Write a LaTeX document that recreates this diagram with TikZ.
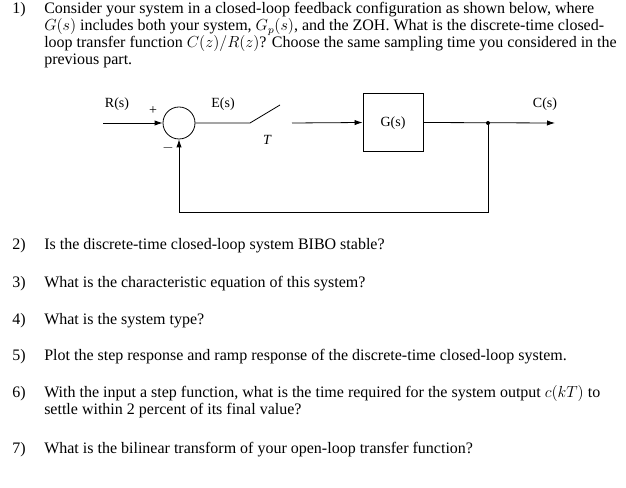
\documentclass[tikz,border=0pt]{standalone}
\usepackage{fontspec}
\setmainfont{Liberation Serif}
\usetikzlibrary{arrows.meta}
\begin{document}
\begin{tikzpicture}[x=0.75pt,y=-0.75pt,
  txt/.style={anchor=base west,inner sep=0pt,font=\fontsize{12}{14}\selectfont},
  lbl/.style={inner sep=0pt,font=\fontsize{10.5}{12}\selectfont},
  wire/.style={line width=0.6pt},
  arr/.style={wire,-{Latex[length=6pt,width=4pt]}}]
\useasboundingbox (0,0) rectangle (626,488);
% question text
\node[txt] (n1) at (12,14) {1)};
\node[txt] (l1a) at (44,14) {Consider your system in a closed-loop feedback configuration as shown below, where};
\node[txt] (l1b) at (44,31) {$G(s)$ includes both your system, $G_p(s)$, and the ZOH. What is the discrete-time closed-};
\node[txt] (l1c) at (44,48) {loop transfer function $C(z)/R(z)$? Choose the same sampling time you considered in the};
\node[txt] (l1d) at (44,65) {previous part.};
\node[txt] (n2) at (12,250) {2)};
\node[txt] (l2) at (44,250) {Is the discrete-time closed-loop system BIBO stable?};
\node[txt] (n3) at (12,288) {3)};
\node[txt] (l3) at (44,288) {What is the characteristic equation of this system?};
\node[txt] (n4) at (12,325) {4)};
\node[txt] (l4) at (44,325) {What is the system type?};
\node[txt] (n5) at (12,361) {5)};
\node[txt] (l5) at (44,361) {Plot the step response and ramp response of the discrete-time closed-loop system.};
\node[txt] (n6) at (12,398) {6)};
\node[txt] (l6a) at (44,398) {With the input a step function, what is the time required for the system output $c(kT)$ to};
\node[txt] (l6b) at (44,415) {settle within 2 percent of its final value?};
\node[txt] (n7) at (12,454) {7)};
\node[txt] (l7) at (44,454) {What is the bilinear transform of your open-loop transfer function?};
% diagram
\coordinate (rin) at (103,123);
\node[draw,circle,minimum size=24pt,inner sep=0pt,line width=0.6pt] (sum) at (179,123) {};
\coordinate (sw1) at (250,123);
\coordinate (sw2) at (280,105);
\coordinate (sw3) at (292,123);
\node[draw,minimum width=45pt,minimum height=44pt,inner sep=0pt,line width=0.6pt] (G) at (393,122.5) {};
\node[lbl] (Gl) at (393,123) {G(s)};
\coordinate (tap) at (488,123);
\coordinate (out) at (555,123);
\coordinate (fb1) at (488,212);
\coordinate (fb2) at (179,212);
\fill (tap) circle (2);
\draw[arr] (rin) -- (sum.west);
\draw[wire] (sum.east) -- (sw1) -- (sw2);
\draw[arr] (sw3) -- (G.west);
\draw[arr] (G.east) -- (out);
\draw[arr] (tap) -- (fb1) -- (fb2) -- (sum.south);
\node[lbl] (R) at (117,104) {R(s)};
\node[lbl] (plus) at (153,111) {+};
\node[lbl] (minus) at (168,148) {$-$};
\node[lbl] (E) at (223,104) {E(s)};
\node[lbl,font=\fontsize{10.5}{12}\selectfont\itshape] (T) at (267,140) {T};
\node[lbl] (C) at (545,104) {C(s)};
\end{tikzpicture}
\end{document}
